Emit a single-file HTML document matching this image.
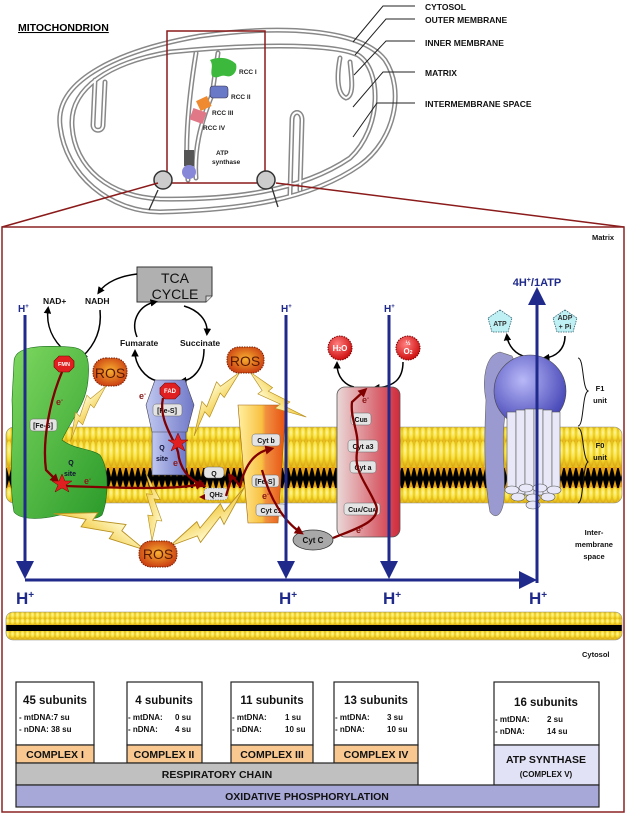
<!DOCTYPE html>
<html><head><meta charset="utf-8"><style>
html,body{margin:0;padding:0;background:#fff;}
svg{display:block;}
text{font-family:"Liberation Sans",Arial,sans-serif;font-weight:bold;}
</style></head><body>
<svg width="627" height="815" viewBox="0 0 627 815" xmlns="http://www.w3.org/2000/svg">
<defs>
<radialGradient id="head" cx="50%" cy="35%" r="65%"><stop offset="0" stop-color="#fff6a0"/><stop offset="0.6" stop-color="#f5dc30"/><stop offset="1" stop-color="#d9a010"/></radialGradient>
<pattern id="mem" patternUnits="userSpaceOnUse" x="0" y="427" width="6" height="76">
<rect width="6" height="76" fill="#e6c020"/>
<ellipse cx="3" cy="8" rx="3" ry="8" fill="url(#head)"/>
<ellipse cx="3" cy="27" rx="3" ry="13" fill="url(#head)"/>
<rect y="41" width="6" height="20" fill="#000"/>
<path d="M0.5,40 L3,50 L5.5,40Z M0.5,62 L3,53 L5.5,62Z" fill="#e8a010"/>
<ellipse cx="3" cy="68" rx="3" ry="8" fill="url(#head)"/>
</pattern>
<pattern id="mem2" patternUnits="userSpaceOnUse" x="0" y="612" width="5" height="28">
<rect width="5" height="28" fill="#e6c020"/>
<ellipse cx="2.5" cy="4" rx="2.5" ry="4" fill="url(#head)"/>
<ellipse cx="2.5" cy="10" rx="2.5" ry="3.5" fill="url(#head)"/>
<rect y="13" width="5" height="6" fill="#000"/>
<ellipse cx="2.5" cy="23" rx="2.5" ry="4" fill="url(#head)"/>
</pattern>
<linearGradient id="grn" x1="0" y1="0" x2="1" y2="1"><stop offset="0" stop-color="#7ed860"/><stop offset="1" stop-color="#2a9a2a"/></linearGradient>
<linearGradient id="blu" x1="0" y1="0" x2="1" y2="0"><stop offset="0" stop-color="#c0c8f0"/><stop offset="1" stop-color="#7078c8"/></linearGradient>
<linearGradient id="c3" x1="0" y1="0" x2="1" y2="0"><stop offset="0" stop-color="#fff0a0"/><stop offset="0.5" stop-color="#f8c040"/><stop offset="0.58" stop-color="#f09040"/><stop offset="1" stop-color="#e85010"/></linearGradient>
<linearGradient id="c4" x1="0" y1="0" x2="1" y2="0"><stop offset="0" stop-color="#ead8d8"/><stop offset="1" stop-color="#d02a3a"/></linearGradient>
<radialGradient id="ros" cx="50%" cy="45%" r="60%"><stop offset="0" stop-color="#f8b030"/><stop offset="1" stop-color="#c83810"/></radialGradient>
<radialGradient id="ball" cx="40%" cy="35%" r="65%"><stop offset="0" stop-color="#b8b8f8"/><stop offset="1" stop-color="#4848b8"/></radialGradient>
<radialGradient id="redc" cx="40%" cy="35%" r="65%"><stop offset="0" stop-color="#ff8080"/><stop offset="1" stop-color="#d01010"/></radialGradient>
<linearGradient id="bolt" x1="0" y1="0" x2="1" y2="0"><stop offset="0" stop-color="#fffbd0"/><stop offset="1" stop-color="#f2c83a"/></linearGradient>
<polygon id="bl" points="0,0 7,24 2,24 11,44 5,44 14,64 -3,40 3,40 -7,20 -2,20" fill="url(#bolt)" stroke="#b89020" stroke-width="0.6"/>
<marker id="ab" markerWidth="6" markerHeight="6" refX="3" refY="3" orient="auto" markerUnits="strokeWidth"><path d="M0,0 L6,3 L0,6Z" fill="#1f2a8a"/></marker>
<marker id="ak" markerWidth="5" markerHeight="5" refX="3" refY="2.5" orient="auto" markerUnits="strokeWidth"><path d="M0,0 L5,2.5 L0,5Z" fill="#000"/></marker>
<marker id="ar" markerWidth="4" markerHeight="4" refX="2" refY="2" orient="auto" markerUnits="strokeWidth"><path d="M0,0 L4,2 L0,4Z" fill="#800000"/></marker>
</defs>

<text x="18" y="31" font-size="10.5" text-decoration="underline">MITOCHONDRION</text>
<g fill="none" stroke-linecap="round">
<g stroke="#888" stroke-width="5">
<path d="M60,125 C55,80 120,50 200,36 C280,25 360,28 385,60 C405,90 395,140 360,165 C310,200 240,210 160,212 C110,212 65,175 60,125 Z"/>
<path d="M72,125 C70,88 110,62 170,52 C240,45 330,42 358,55 C382,70 382,128 350,158 C300,192 230,200 160,199 C110,197 74,168 72,125 Z"/>
<path d="M95,80 L93,125 C93,132 103,132 103,125 L105,82"/>
<path d="M196,53 C190,90 184,140 188,180"/>
<path d="M218,53 L212,95 C200,125 194,150 196,178"/>
<path d="M340,58 C336,80 338,95 346,98 C354,96 352,80 350,62"/>
<path d="M290,195 L292,120 C292,110 302,110 302,120 L300,190"/>
</g>
<g stroke="#fff" stroke-width="2">
<path d="M60,125 C55,80 120,50 200,36 C280,25 360,28 385,60 C405,90 395,140 360,165 C310,200 240,210 160,212 C110,212 65,175 60,125 Z"/>
<path d="M72,125 C70,88 110,62 170,52 C240,45 330,42 358,55 C382,70 382,128 350,158 C300,192 230,200 160,199 C110,197 74,168 72,125 Z"/>
<path d="M95,80 L93,125 C93,132 103,132 103,125 L105,82"/>
<path d="M196,53 C190,90 184,140 188,180"/>
<path d="M218,53 L212,95 C200,125 194,150 196,178"/>
<path d="M340,58 C336,80 338,95 346,98 C354,96 352,80 350,62"/>
<path d="M290,195 L292,120 C292,110 302,110 302,120 L300,190"/>
</g>
</g>
<rect x="167" y="31" width="98" height="152" fill="none" stroke="#8b1a1a" stroke-width="1.5"/>
<path d="M210,60 C220,56 230,58 236,64 C238,72 232,78 226,76 C220,74 218,80 212,76 C210,70 214,66 210,60Z" fill="#3cb83c"/>
<rect x="210" y="86" width="18" height="12" rx="3" fill="#6a78c8" stroke="#334" stroke-width="0.6"/>
<rect x="198" y="98" width="12" height="11" fill="#f08a30" transform="rotate(-25 204 104)"/>
<rect x="191" y="110" width="14" height="12" fill="#e07888" transform="rotate(20 198 116)"/>
<rect x="184" y="150" width="10" height="16" fill="#555"/>
<ellipse cx="189" cy="172" rx="7" ry="7" fill="#8888d8"/>
<g font-size="6.5" fill="#222"><text x="239" y="74">RCC I</text><text x="231" y="99">RCC II</text><text x="212" y="115">RCC III</text><text x="203" y="130">RCC IV</text><text x="216" y="155">ATP</text><text x="212" y="164">synthase</text></g>
<g stroke="#333" stroke-width="1.3">
<line x1="158" y1="190" x2="149" y2="210"/><line x1="272" y1="188" x2="278" y2="207"/></g>
<circle cx="163" cy="180" r="9" fill="#ccc" stroke="#333" stroke-width="1.5"/>
<circle cx="266" cy="180" r="9" fill="#ccc" stroke="#333" stroke-width="1.5"/>
<line x1="158" y1="183" x2="2" y2="227" stroke="#8b1a1a" stroke-width="1.5"/>
<line x1="276" y1="183" x2="624" y2="227" stroke="#8b1a1a" stroke-width="1.5"/>
<g stroke="#222" stroke-width="1" fill="none">
<path d="M415,6 L383,6 L353,42"/><path d="M415,19 L386,19 L355,55"/><path d="M415,41 L386,41 L354,75"/><path d="M415,72 L383,72 L353,107"/><path d="M415,103 L377,103 L353,137"/></g>
<g font-size="8.5" fill="#111"><text x="425" y="10">CYTOSOL</text><text x="425" y="23">OUTER MEMBRANE</text><text x="425" y="46">INNER MEMBRANE</text><text x="425" y="76">MATRIX</text><text x="425" y="107">INTERMEMBRANE SPACE</text></g>

<rect x="2" y="227" width="622" height="585" fill="none" stroke="#8b2323" stroke-width="1.5"/>
<text x="592" y="240" font-size="7.5" fill="#111">Matrix</text>
<rect x="6" y="427" width="616" height="76" rx="8" fill="url(#mem)" stroke="#888" stroke-width="0.6"/>
<rect x="6" y="612" width="616" height="28" rx="7" fill="url(#mem2)" stroke="#888" stroke-width="0.6"/>
<text x="582" y="657" font-size="7.5" fill="#111">Cytosol</text>
<g font-size="7.5" fill="#111" text-anchor="middle"><text x="594" y="535">Inter-</text><text x="594" y="547">membrane</text><text x="594" y="559">space</text>
<text x="600" y="391">F1</text><text x="600" y="403">unit</text><text x="600" y="448">F0</text><text x="600" y="460">unit</text></g>
<path d="M578,358 C584,358 582,388 588,391 C582,394 584,426 578,426 M578,428 C584,428 582,456 588,462 C582,466 584,503 578,503" fill="none" stroke="#111" stroke-width="1"/>

<path d="M137,267 L212,267 L212,296 L206,302 L137,302Z" fill="#b0b0b0" stroke="#333" stroke-width="1"/>
<path d="M206,302 L206,296 L212,296" fill="#ddd" stroke="#333" stroke-width="0.8"/>
<g font-size="14" fill="#111" text-anchor="middle"><text x="175" y="283" style="font-weight:normal">TCA</text><text x="175" y="299" style="font-weight:normal">CYCLE</text></g>
<g fill="none" stroke="#000" stroke-width="1.5" marker-end="url(#ak)">
<path d="M137,274 C120,276 106,282 99,292"/>
<path d="M100,310 C102,330 95,345 82,357"/>
<path d="M66,352 C52,340 46,325 48,309"/>
<path d="M137,337 C130,320 140,305 155,302"/>
<path d="M184,306 C198,310 208,320 207,333"/>
<path d="M204,349 C204,370 192,380 182,381"/>
<path d="M157,381 C145,378 135,365 135,352"/>
<path d="M354,387 C345,385 337,377 337,364"/>
<path d="M403,362 C403,378 395,387 375,388"/>
<path d="M527,357 C515,355 508,345 507,336"/>
<path d="M565,336 C565,350 555,357 545,358"/>
</g>
<g font-size="8.5" fill="#111"><text x="43" y="304">NAD+</text><text x="85" y="304">NADH</text><text x="120" y="346">Fumarate</text><text x="180" y="346">Succinate</text></g>

<polygon points="238,405 286,405 278,523 248,523" fill="url(#c3)" stroke="#a06010" stroke-width="0.6"/>
<path d="M14,362 C14,346 40,345 70,347 C88,348 90,360 88,380 C86,405 72,418 62,440 C75,450 90,448 100,455 C110,470 108,500 102,515 C90,525 70,512 60,515 C40,520 20,520 14,512 C8,480 14,440 12,400 Z" fill="url(#grn)" stroke="#1a6a1a" stroke-width="0.6"/>
<rect x="152" y="430" width="34" height="45" fill="url(#blu)" stroke="#445" stroke-width="0.6"/>
<polygon points="155,380 185,380 194,405 187,432 152,432 146,405" fill="url(#blu)" stroke="#445" stroke-width="0.6"/>
<rect x="337" y="387" width="63" height="150" rx="8" fill="url(#c4)" stroke="#555" stroke-width="0.8"/>
<path d="M500,352 C485,355 482,380 486,400 C484,440 484,480 490,512 C496,520 502,515 504,500 C506,470 500,440 506,410 C515,390 520,370 512,356 Z" fill="#9a9ad0" stroke="#666" stroke-width="0.6"/>
<circle cx="530" cy="391" r="36" fill="url(#ball)" stroke="#444" stroke-width="0.6"/>
<g fill="#e8e8f8" stroke="#555" stroke-width="0.6">
<rect x="507" y="412" width="9" height="80"/><rect x="516" y="410" width="9" height="84"/><rect x="525" y="409" width="9" height="86"/><rect x="534" y="409" width="9" height="86"/><rect x="543" y="410" width="9" height="84"/><rect x="552" y="412" width="8" height="80"/>
<ellipse cx="512" cy="490" rx="7" ry="4"/><ellipse cx="526" cy="488" rx="7" ry="4"/><ellipse cx="540" cy="488" rx="7" ry="4"/><ellipse cx="554" cy="490" rx="7" ry="4"/>
<ellipse cx="518" cy="497" rx="7" ry="4"/><ellipse cx="533" cy="498" rx="7" ry="4"/><ellipse cx="548" cy="497" rx="7" ry="4"/><ellipse cx="533" cy="505" rx="7" ry="4"/>
</g>
<g stroke="#2a6070" stroke-dasharray="1.5 1" fill="#bff0f4" stroke-width="0.8">
<polygon points="500,310 512,318 508,332 492,332 488,318"/>
<polygon points="565,310 577,318 573,332 557,332 553,318"/></g>
<g font-size="7" fill="#333" text-anchor="middle"><text x="500" y="326">ATP</text><text x="565" y="320">ADP</text><text x="565" y="329">+ Pi</text></g>
<ellipse cx="313" cy="540" rx="20" ry="10" fill="#a8a8a8" stroke="#333" stroke-width="0.8"/>
<text x="313" y="543" font-size="8" text-anchor="middle" fill="#111">Cyt C</text>
<circle cx="340" cy="348" r="12" fill="url(#redc)" stroke="#700" stroke-dasharray="1.5 1"/>
<circle cx="408" cy="348" r="12" fill="url(#redc)" stroke="#700" stroke-dasharray="1.5 1"/>
<g font-size="8" fill="#fff" text-anchor="middle"><text x="340" y="351">H<tspan font-size="5">2</tspan>O</text><text x="408" y="345" font-size="6">½</text><text x="408" y="354">O<tspan font-size="5">2</tspan></text></g>

<use href="#bl" transform="translate(106,386) rotate(45)"/>
<use href="#bl" transform="translate(145,550) rotate(124) scale(1.5)"/>
<use href="#bl" transform="translate(152,541) rotate(-173) scale(1.05)"/>
<use href="#bl" transform="translate(170,546) rotate(-116) scale(1.45)"/>
<use href="#bl" transform="translate(240,372) rotate(48) scale(1.2)"/>
<use href="#bl" transform="translate(250,372) rotate(-39) scale(1.1)"/>

<g stroke="#7a2000" stroke-dasharray="1.5 1" fill="url(#ros)">
<rect x="93" y="358" width="34" height="28" rx="13"/>
<rect x="227" y="347" width="37" height="26" rx="12"/>
<rect x="139" y="541" width="38" height="26" rx="12"/></g>
<g font-size="14" fill="#5a1800" text-anchor="middle"><text x="110" y="378" style="font-weight:normal">ROS</text><text x="245" y="366" style="font-weight:normal">ROS</text><text x="158" y="559" style="font-weight:normal">ROS</text></g>

<polygon points="59,356 69,356 74,361 74,367 69,372 59,372 54,367 54,361" fill="#e02020" stroke="#700" stroke-width="0.6"/>
<text x="64" y="366" font-size="5.5" fill="#fff" text-anchor="middle">FMN</text>
<polygon points="165,383 175,383 180,388 180,394 175,399 165,399 160,394 160,388" fill="#e02020" stroke="#700" stroke-width="0.6"/>
<text x="170" y="393" font-size="6" fill="#fff" text-anchor="middle">FAD</text>
<g fill="#e4e4e4" stroke="#666" stroke-width="0.5">
<rect x="30" y="419" width="27" height="12" rx="3"/><rect x="153" y="404" width="29" height="12" rx="3"/>
<rect x="204" y="467" width="20" height="11" rx="4"/><rect x="204" y="488" width="24" height="12" rx="4" stroke-dasharray="1.5 1"/>
<rect x="252" y="434" width="28" height="12" rx="3"/><rect x="252" y="475" width="27" height="12" rx="3"/><rect x="256" y="504" width="30" height="12" rx="3"/>
<rect x="351" y="413" width="20" height="12" rx="3"/><rect x="348" y="440" width="30" height="12" rx="3"/><rect x="350" y="461" width="26" height="12" rx="3"/><rect x="344" y="503" width="36" height="12" rx="3"/></g>
<g font-size="7" fill="#111" text-anchor="middle">
<text x="43" y="428">[Fe-S]</text><text x="167" y="413">[Fe-S]</text><text x="214" y="476">Q</text><text x="216" y="497">QH<tspan font-size="5">2</tspan></text>
<text x="266" y="443">Cyt b</text><text x="265" y="484">[Fe-S]</text><text x="271" y="513">Cyt c1</text>
<text x="361" y="422">Cu<tspan font-size="5">B</tspan></text><text x="363" y="449">Cyt a3</text><text x="363" y="470">Cyt a</text><text x="362" y="512">Cu<tspan font-size="5">A</tspan>/Cu<tspan font-size="5">A</tspan></text>
<text x="71" y="465" fill="#113">Q</text><text x="70" y="476" fill="#113">site</text><text x="162" y="450" fill="#113">Q</text><text x="162" y="461" fill="#113">site</text></g>

<g fill="none" stroke="#800000" stroke-width="2.3" marker-end="url(#ar)">
<path d="M62,372 C50,400 42,440 46,470 L56,480"/>
<path d="M66,486 C120,488 180,490 200,484"/>
<path d="M163,398 C158,420 175,440 178,452 C180,470 190,480 202,485"/>
<path d="M226,496 L232,476 L240,486 C246,462 256,452 270,449"/>
<path d="M262,470 C270,500 285,522 300,532"/>
<path d="M333,538 C352,530 382,522 376,505 C366,482 354,472 357,452 C360,432 350,420 352,402 L364,391"/>
</g>
<path d="M237,478 L228,473 L229,481Z M205,494 L199,497 L205,500Z" fill="#800000"/>
<polygon points="62,474 65,481 72,481 66,485 69,492 62,488 55,492 58,485 52,481 59,481" fill="#e02020" stroke="#700" stroke-width="0.5"/>
<polygon points="178,433 181,440 188,440 182,444 185,451 178,447 171,451 174,444 168,440 175,440" fill="#e02020" stroke="#700" stroke-width="0.5"/>
<g font-size="9" fill="#8b1a1a"><text x="56" y="405">e<tspan font-size="6" dy="-3">-</tspan></text><text x="84" y="484">e<tspan font-size="6" dy="-3">-</tspan></text>
<text x="139" y="399">e<tspan font-size="6" dy="-3">-</tspan></text><text x="173" y="466">e<tspan font-size="6" dy="-3">-</tspan></text><text x="262" y="499">e<tspan font-size="6" dy="-3">-</tspan></text>
<text x="362" y="403">e<tspan font-size="6" dy="-3">-</tspan></text><text x="356" y="533">e<tspan font-size="6" dy="-3">-</tspan></text></g>

<g stroke="#1f2a8a" stroke-width="3" fill="none">
<line x1="25" y1="315" x2="25" y2="570" marker-end="url(#ab)"/>
<line x1="286" y1="315" x2="286" y2="570" marker-end="url(#ab)"/>
<line x1="389" y1="315" x2="389" y2="570" marker-end="url(#ab)"/>
<line x1="25" y1="580" x2="528" y2="580" marker-end="url(#ab)"/>
<line x1="537" y1="583" x2="537" y2="296" marker-end="url(#ab)"/></g>
<g fill="#1f2a8a"><g font-size="10"><text x="18" y="312">H<tspan font-size="6" dy="-4">+</tspan></text><text x="281" y="312">H<tspan font-size="6" dy="-4">+</tspan></text><text x="384" y="312">H<tspan font-size="6" dy="-4">+</tspan></text></g>
<text x="537" y="286" font-size="11" text-anchor="middle">4H<tspan font-size="7" dy="-4">+</tspan><tspan dy="4">/1ATP</tspan></text>
<g font-size="17"><text x="16" y="604">H<tspan font-size="10" dy="-6">+</tspan></text><text x="279" y="604">H<tspan font-size="10" dy="-6">+</tspan></text><text x="383" y="604">H<tspan font-size="10" dy="-6">+</tspan></text><text x="529" y="604">H<tspan font-size="10" dy="-6">+</tspan></text></g></g>

<g stroke="#222" stroke-width="1.2">
<rect x="16" y="682" width="78" height="63" fill="#fff"/><rect x="127" y="682" width="75" height="63" fill="#fff"/><rect x="231" y="682" width="82" height="63" fill="#fff"/><rect x="334" y="682" width="84" height="63" fill="#fff"/><rect x="494" y="682" width="105" height="63" fill="#fff"/>
<rect x="16" y="745" width="78" height="18" fill="#f8c890"/><rect x="127" y="745" width="75" height="18" fill="#f8c890"/><rect x="231" y="745" width="82" height="18" fill="#f8c890"/><rect x="334" y="745" width="84" height="18" fill="#f8c890"/>
<rect x="494" y="745" width="105" height="40" fill="#e2e2f6"/>
<rect x="16" y="763" width="402" height="22" fill="#c0c0c0"/>
<rect x="16" y="785" width="583" height="22" fill="#a8a8d8"/></g>
<g fill="#111">
<g font-size="11.5" text-anchor="middle"><text x="55" y="704">45 subunits</text><text x="164" y="704">4 subunits</text><text x="272" y="704">11 subunits</text><text x="376" y="704">13 subunits</text><text x="546" y="706">16 subunits</text></g>
<g font-size="8">
<text x="19" y="720">- mtDNA:7 su</text><text x="19" y="732">- nDNA:  38 su</text>
<text x="128" y="720">- mtDNA:</text><text x="175" y="720">0 su</text><text x="128" y="732">- nDNA:</text><text x="175" y="732">4 su</text>
<text x="232" y="720">- mtDNA:</text><text x="285" y="720">1 su</text><text x="232" y="732">- nDNA:</text><text x="285" y="732">10 su</text>
<text x="335" y="720">- mtDNA:</text><text x="387" y="720">3 su</text><text x="335" y="732">- nDNA:</text><text x="387" y="732">10 su</text>
<text x="495" y="722">- mtDNA:</text><text x="547" y="722">2 su</text><text x="495" y="734">- nDNA:</text><text x="547" y="734">14 su</text></g>
<g font-size="10.5" text-anchor="middle"><text x="55" y="758">COMPLEX I</text><text x="164" y="758">COMPLEX II</text><text x="272" y="758">COMPLEX III</text><text x="376" y="758">COMPLEX IV</text>
<text x="217" y="778">RESPIRATORY CHAIN</text><text x="307" y="800">OXIDATIVE PHOSPHORYLATION</text>
<text x="546" y="763">ATP SYNTHASE</text><text x="546" y="777" font-size="8">(COMPLEX V)</text></g></g>
</svg>
</body></html>
